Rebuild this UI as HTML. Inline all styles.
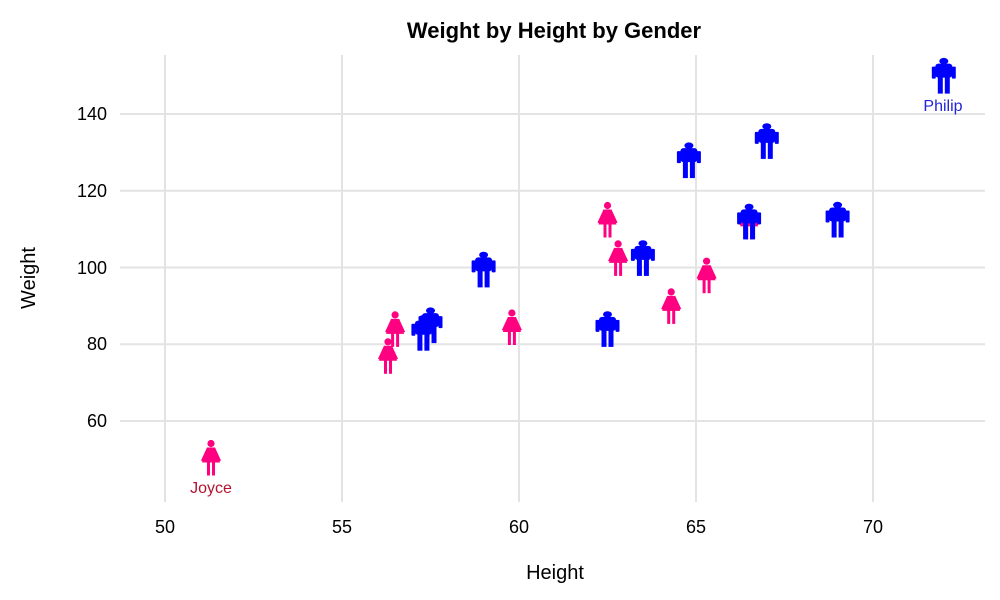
<!DOCTYPE html>
<html><head><meta charset="utf-8"><style>body{margin:0;background:#fff}svg{display:block;font-family:"Liberation Sans",Arial,sans-serif}</style></head>
<body>
<svg width="1000" height="600" viewBox="0 0 1000 600">
<defs>
<g id="m" fill="#0000ff">
<ellipse cx="0" cy="-14.5" rx="4.5" ry="3.2"/>
<rect x="-8.5" y="-12" width="17" height="14" rx="3"/>
<rect x="-12" y="-9" width="4" height="12" rx="1"/>
<rect x="8" y="-9" width="4" height="12" rx="1"/>
<rect x="-6" y="0" width="5" height="18"/>
<rect x="1" y="0" width="5" height="18"/>
</g>
<g id="f" fill="#ff0080">
<circle cx="0" cy="-14" r="3.6"/>
<path d="M-4,-10 L4,-10 L9,5 L-9,5 Z"/>
<path d="M-4,-10 L-10,3 L-8,4 L-2,-8 Z"/>
<path d="M4,-10 L10,3 L8,4 L2,-8 Z"/>
<rect x="-4" y="4" width="3" height="14"/>
<rect x="1" y="4" width="3" height="14"/>
</g>
</defs>
<g stroke="#e3e3e3" stroke-width="2">
<line x1="120" y1="114" x2="985" y2="114"/>
<line x1="120" y1="190.75" x2="985" y2="190.75"/>
<line x1="120" y1="267.5" x2="985" y2="267.5"/>
<line x1="120" y1="344.25" x2="985" y2="344.25"/>
<line x1="120" y1="421" x2="985" y2="421"/>
<line x1="165" y1="55" x2="165" y2="502"/>
<line x1="342" y1="55" x2="342" y2="502"/>
<line x1="519" y1="55" x2="519" y2="502"/>
<line x1="696" y1="55" x2="696" y2="502"/>
<line x1="873" y1="55" x2="873" y2="502"/>
</g>
<g font-size="18" fill="#000" text-anchor="end">
<text x="107" y="120">140</text><text x="107" y="197">120</text><text x="107" y="274">100</text><text x="107" y="350">80</text><text x="107" y="427">60</text>
</g>
<g font-size="18" fill="#000" text-anchor="middle">
<text x="165" y="533">50</text><text x="342" y="533">55</text><text x="519" y="533">60</text><text x="696" y="533">65</text><text x="873" y="533">70</text>
<text x="555" y="579" font-size="20">Height</text>
<text x="554" y="38" font-size="22" font-weight="bold">Weight by Height by Gender</text>
<text transform="translate(35,278) rotate(-90)" font-size="20">Weight</text>
</g>
<use href="#f" x="395.1" y="328.9"/>
<use href="#f" x="706.6" y="275.2"/>
<use href="#f" x="618.1" y="257.9"/>
<use href="#f" x="511.9" y="327"/>
<use href="#f" x="607.5" y="219.5"/>
<use href="#f" x="211" y="457.5"/>
<use href="#f" x="671.2" y="305.9"/>
<use href="#f" x="388" y="355.8"/>
<use href="#f" x="749.1" y="221.4"/>
<use href="#m" x="837.6" y="219.5"/>
<use href="#m" x="642.9" y="257.9"/>
<use href="#m" x="423.4" y="332.7"/>
<use href="#m" x="607.5" y="328.9"/>
<use href="#m" x="483.6" y="269.4"/>
<use href="#m" x="943.8" y="75.6"/>
<use href="#m" x="688.9" y="160.1"/>
<use href="#m" x="766.8" y="140.9"/>
<use href="#m" x="430.5" y="325.1"/>
<use href="#m" x="749.1" y="221.4"/>
<text x="211" y="493" font-size="16" fill="#b5122f" text-anchor="middle">Joyce</text>
<text x="943" y="111" font-size="16" fill="#2424d8" text-anchor="middle">Philip</text>
</svg>
</body></html>
